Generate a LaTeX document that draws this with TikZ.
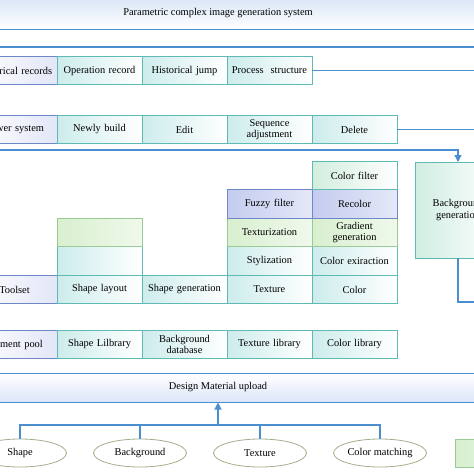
\documentclass[tikz,border=0pt]{standalone}
\usepackage{fontspec}
\setmainfont{Liberation Serif}
\usetikzlibrary{positioning,shapes.geometric,arrows.meta}

\definecolor{linkblue}{HTML}{4B8FD0}
\definecolor{cellline}{HTML}{5FB9B5}
\definecolor{cellfill}{HTML}{CDECEC}
\definecolor{blueline}{HTML}{6F87C9}
\definecolor{bluefill}{HTML}{C4CCEF}
\definecolor{greenline}{HTML}{99CC94}
\definecolor{greenfill}{HTML}{D8EFCF}
\definecolor{lavfill}{HTML}{E2E6F7}
\definecolor{ovalline}{HTML}{A3AE8C}
\definecolor{bannertop}{HTML}{D8E6F6}
\definecolor{uploadfill}{HTML}{DCE5F8}

\begin{document}
\begin{tikzpicture}[x=1pt,y=-1pt,
    txt/.style={font=\fontsize{10.4}{11.2}\selectfont},
    cell/.style={txt, draw=cellline, line width=0.8pt, left color=cellfill,
      right color=white, minimum width=85pt, minimum height=28.5pt,
      text width=83pt, inner sep=1pt, outer sep=0pt, align=center},
    bluecell/.style={cell, draw=blueline, left color=bluefill, right color=bluefill!45!white},
    greencell/.style={cell, draw=greenline, left color=greenfill, right color=greenfill!40!white},
    leftcell/.style={cell, draw=blueline, left color=white, right color=lavfill},
    banner/.style={txt, draw=linkblue, line width=1pt, minimum width=540pt},
    oval/.style={txt, ellipse, draw=ovalline, line width=0.8pt, fill=white,
      minimum width=93pt, minimum height=28pt, inner sep=0pt},
    link/.style={draw=linkblue, line width=1.2pt},
    tip/.style={-{Triangle[length=7pt,width=7pt]}}]
  \useasboundingbox (0,0) rectangle (474,474);
  \clip (0,0) rectangle (474,474);

  % --- Title banner ---
  \node[banner, minimum height=31pt, top color=bannertop, bottom color=white] (title)
    at (218,13.5) {Parametric complex image generation system};
  \draw[link, line width=2pt] (-5,47) -- (480,47);

  % --- History row ---
  \node[leftcell] (hist) at (14.5,70.5) {Historical records};
  \node[cell, right=0pt of hist] (oprec) {Operation record};
  \node[cell, right=0pt of oprec] (jump) {Historical jump};
  \node[cell, right=0pt of jump] (proc) {Process\ \ structure};
  \coordinate (procout) at (480,70.5);
  \draw[link] (proc.east) -- (procout);

  % --- Layer row ---
  \node[leftcell] (layer) at (14.5,129.5) {Power system};
  \node[cell, right=0pt of layer] (newb) {Newly build};
  \node[cell, right=0pt of newb] (edit) {Edit};
  \node[cell, right=0pt of edit] (seq) {Sequence\\adjustment};
  \node[cell, right=0pt of seq] (del) {Delete};
  \coordinate (delout) at (480,129.5);
  \draw[link] (del.east) -- (delout);

  % --- Background generation ---
  \node[cell, minimum width=86pt, text width=84pt, minimum height=96pt,
    left color=greenfill!35!cellfill, right color=white]
    (bg) at (458,210) {Background\\generation};
  \coordinate (feedin) at (-5,150);
  \draw[link, tip] (feedin) -| (bg.north);
  \coordinate (bgout) at (480,302);
  \draw[link] (bg.south) |- (bgout);

  % --- Tool row ---
  \node[leftcell] (tools) at (14.5,289.5) {Toolset};
  \node[cell, right=0pt of tools] (slay) {Shape layout};
  \node[cell, right=0pt of slay] (sgen) {Shape generation};
  \node[cell, right=0pt of sgen] (tex) {Texture};
  \node[cell, right=0pt of tex] (col) {Color};

  % --- Stacked options above the tools ---
  \node[cell, above=0pt of slay] (slay1) {};
  \node[greencell, above=0pt of slay1] (slay2) {};
  \node[cell, above=0pt of tex] (styl) {Stylization};
  \node[greencell, above=0pt of styl] (texz) {Texturization};
  \node[bluecell, above=0pt of texz] (fuzzy) {Fuzzy filter};
  \node[cell, above=0pt of col] (cext) {Color exiraction};
  \node[greencell, above=0pt of cext] (grad) {Gradient\\generation};
  \node[bluecell, above=0pt of grad] (recol) {Recolor};
  \node[cell, above=0pt of recol, left color=greenfill!50!cellfill] (cfilt) {Color filter};

  % --- Library row ---
  \node[leftcell] (pool) at (14.5,344.5) {Element pool};
  \node[cell, right=0pt of pool] (shlib) {Shape Lilbrary};
  \node[cell, right=0pt of shlib] (bgdb) {Background\\database};
  \node[cell, right=0pt of bgdb] (texlib) {Texture library};
  \node[cell, right=0pt of texlib] (collib) {Color library};

  % --- Upload banner ---
  \node[banner, minimum height=29pt, top color=white, bottom color=uploadfill] (upload)
    at (218,387.5) {Design Material upload};

  % --- Material ovals ---
  \node[oval] (shape) at (20,453) {Shape};
  \node[oval] (bgr) at (140,453) {Background};
  \node[oval] (texm) at (260,453) {Texture};
  \node[oval] (colm) at (380,453) {Color matching};
  \coordinate (hub) at (218,425);
  \draw[link] (shape.north) |- (hub) -| (colm.north);
  \draw[link] (bgr.north) -- (bgr.north |- hub);
  \draw[link] (texm.north) -- (texm.north |- hub);
  \draw[link, tip] (hub) -- (upload.south);

  % --- Box cut at the lower right ---
  \node[greencell, minimum width=86pt, minimum height=28pt] (extra) at (498,453) {};
\end{tikzpicture}
\end{document}
